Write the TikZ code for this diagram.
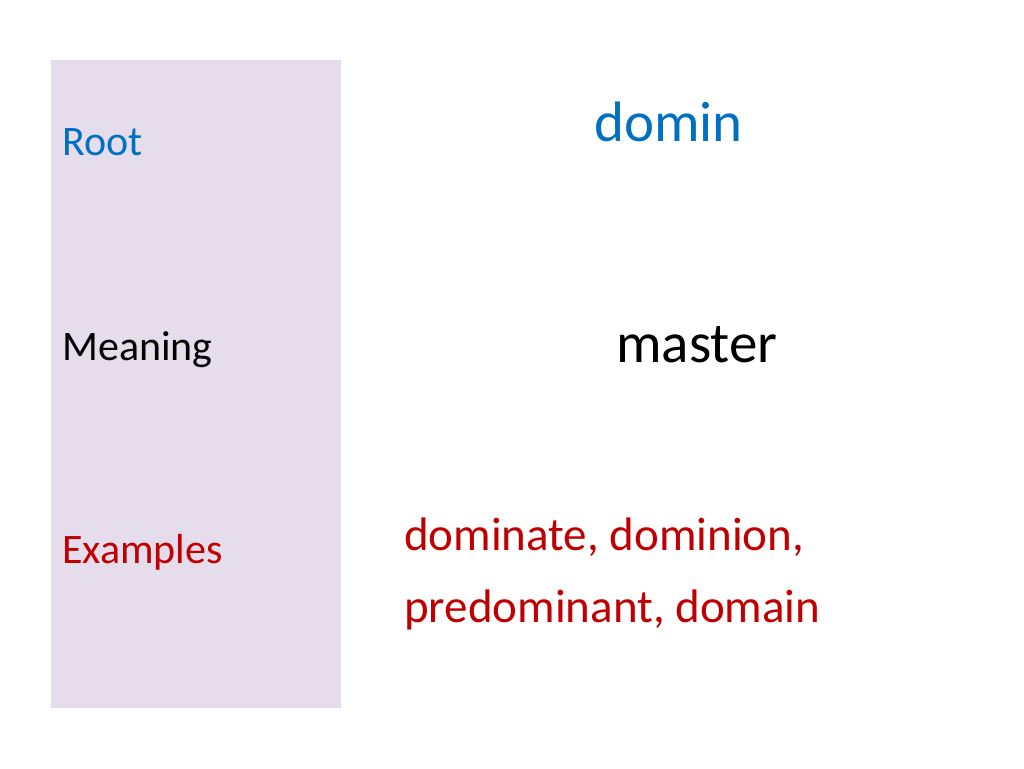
\documentclass[tikz,border=0pt]{standalone}
\usepackage{fontspec}
\setmainfont{Carlito}
\definecolor{panel}{HTML}{E6DDEC}
\definecolor{rootblue}{HTML}{0070C0}
\definecolor{exred}{HTML}{C00000}
\begin{document}
\begin{tikzpicture}[x=1pt,y=-1pt,
  lbl/.style={anchor=base west,inner sep=0pt,font=\fontsize{42}{46}\selectfont},
  val/.style={anchor=base west,inner sep=0pt,font=\fontsize{57}{64}\selectfont},
  ex/.style={anchor=base west,inner sep=0pt,text=exred,font=\fontsize{47}{54}\selectfont}]
\useasboundingbox (0,0) rectangle (1024,768);
\fill[panel] (51,60) rectangle (341,708);
\node[lbl,text=rootblue] (root) at (62,155) {Root};
\node[lbl] (meaning) at (62,360) {Meaning};
\node[lbl,text=exred] (examples) at (62,563) {Examples};
\node[val,text=rootblue] (domin) at (594,141) {domin};
\node[val] (master) at (616,362) {master};
\node[ex] (ex1) at (404,550) {dominate, dominion,};
\node[ex] (ex2) at (404,622) {predominant, domain};
\end{tikzpicture}
\end{document}
